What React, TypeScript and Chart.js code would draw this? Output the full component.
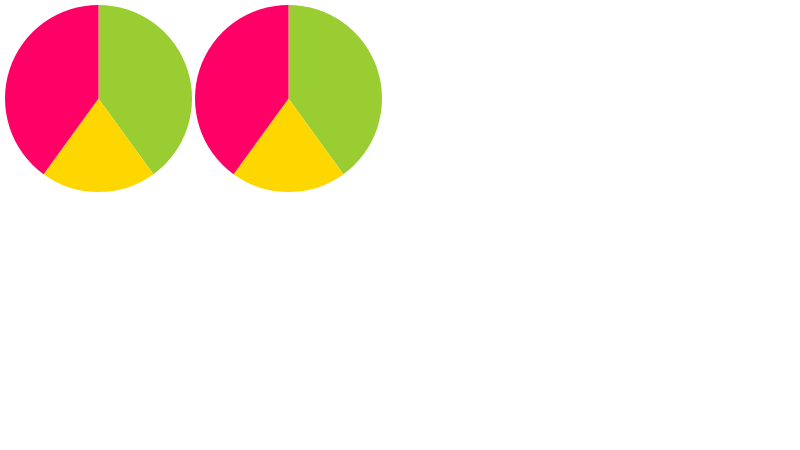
import { Chart, registerables } from "chart.js";
import { useEffect, useRef } from "react";

Chart.register(...registerables);

const labels = ["Green", "Yellow", "Red"];
const firstValues = [40, 20, 40];
const secondValues = [40, 20, 40];
const colors = ["#9ACD32", "#FFD700", "#FF0066"];

const PieChart: React.FC<{ values: number[], left: number }> = (props) => {
  const chartRef = useRef<HTMLCanvasElement | null>(null);

  useEffect(() => {
    if (chartRef.current) {
      const ctx = chartRef.current.getContext('2d');
      if (ctx) {
        const myChart = new Chart(ctx, {
          type: 'pie',
          data: {
            labels: labels,
            datasets: [{
              data: props.values,
              backgroundColor: colors,
              borderWidth: 0,
              hoverOffset: 0,
            }],
          },
          options: {
            responsive: true,
            maintainAspectRatio: false,
            animation: false,
            layout: { padding: 0 },
            plugins: {
              legend: { display: false },
              tooltip: { enabled: false },
            },
          },
        });
        return () => myChart.destroy();
      }
    }
  }, []);

  return (
    <div style={{ position: 'absolute', left: props.left + 'px', top: '5px', width: '187px', height: '187px' }}>
      <canvas ref={chartRef} />
    </div>
  );
}

const App: React.FC = () => {
  return (
    <div>
      <PieChart values={firstValues} left={5} />
      <PieChart values={secondValues} left={195} />
    </div>
  )
}

export default App;
